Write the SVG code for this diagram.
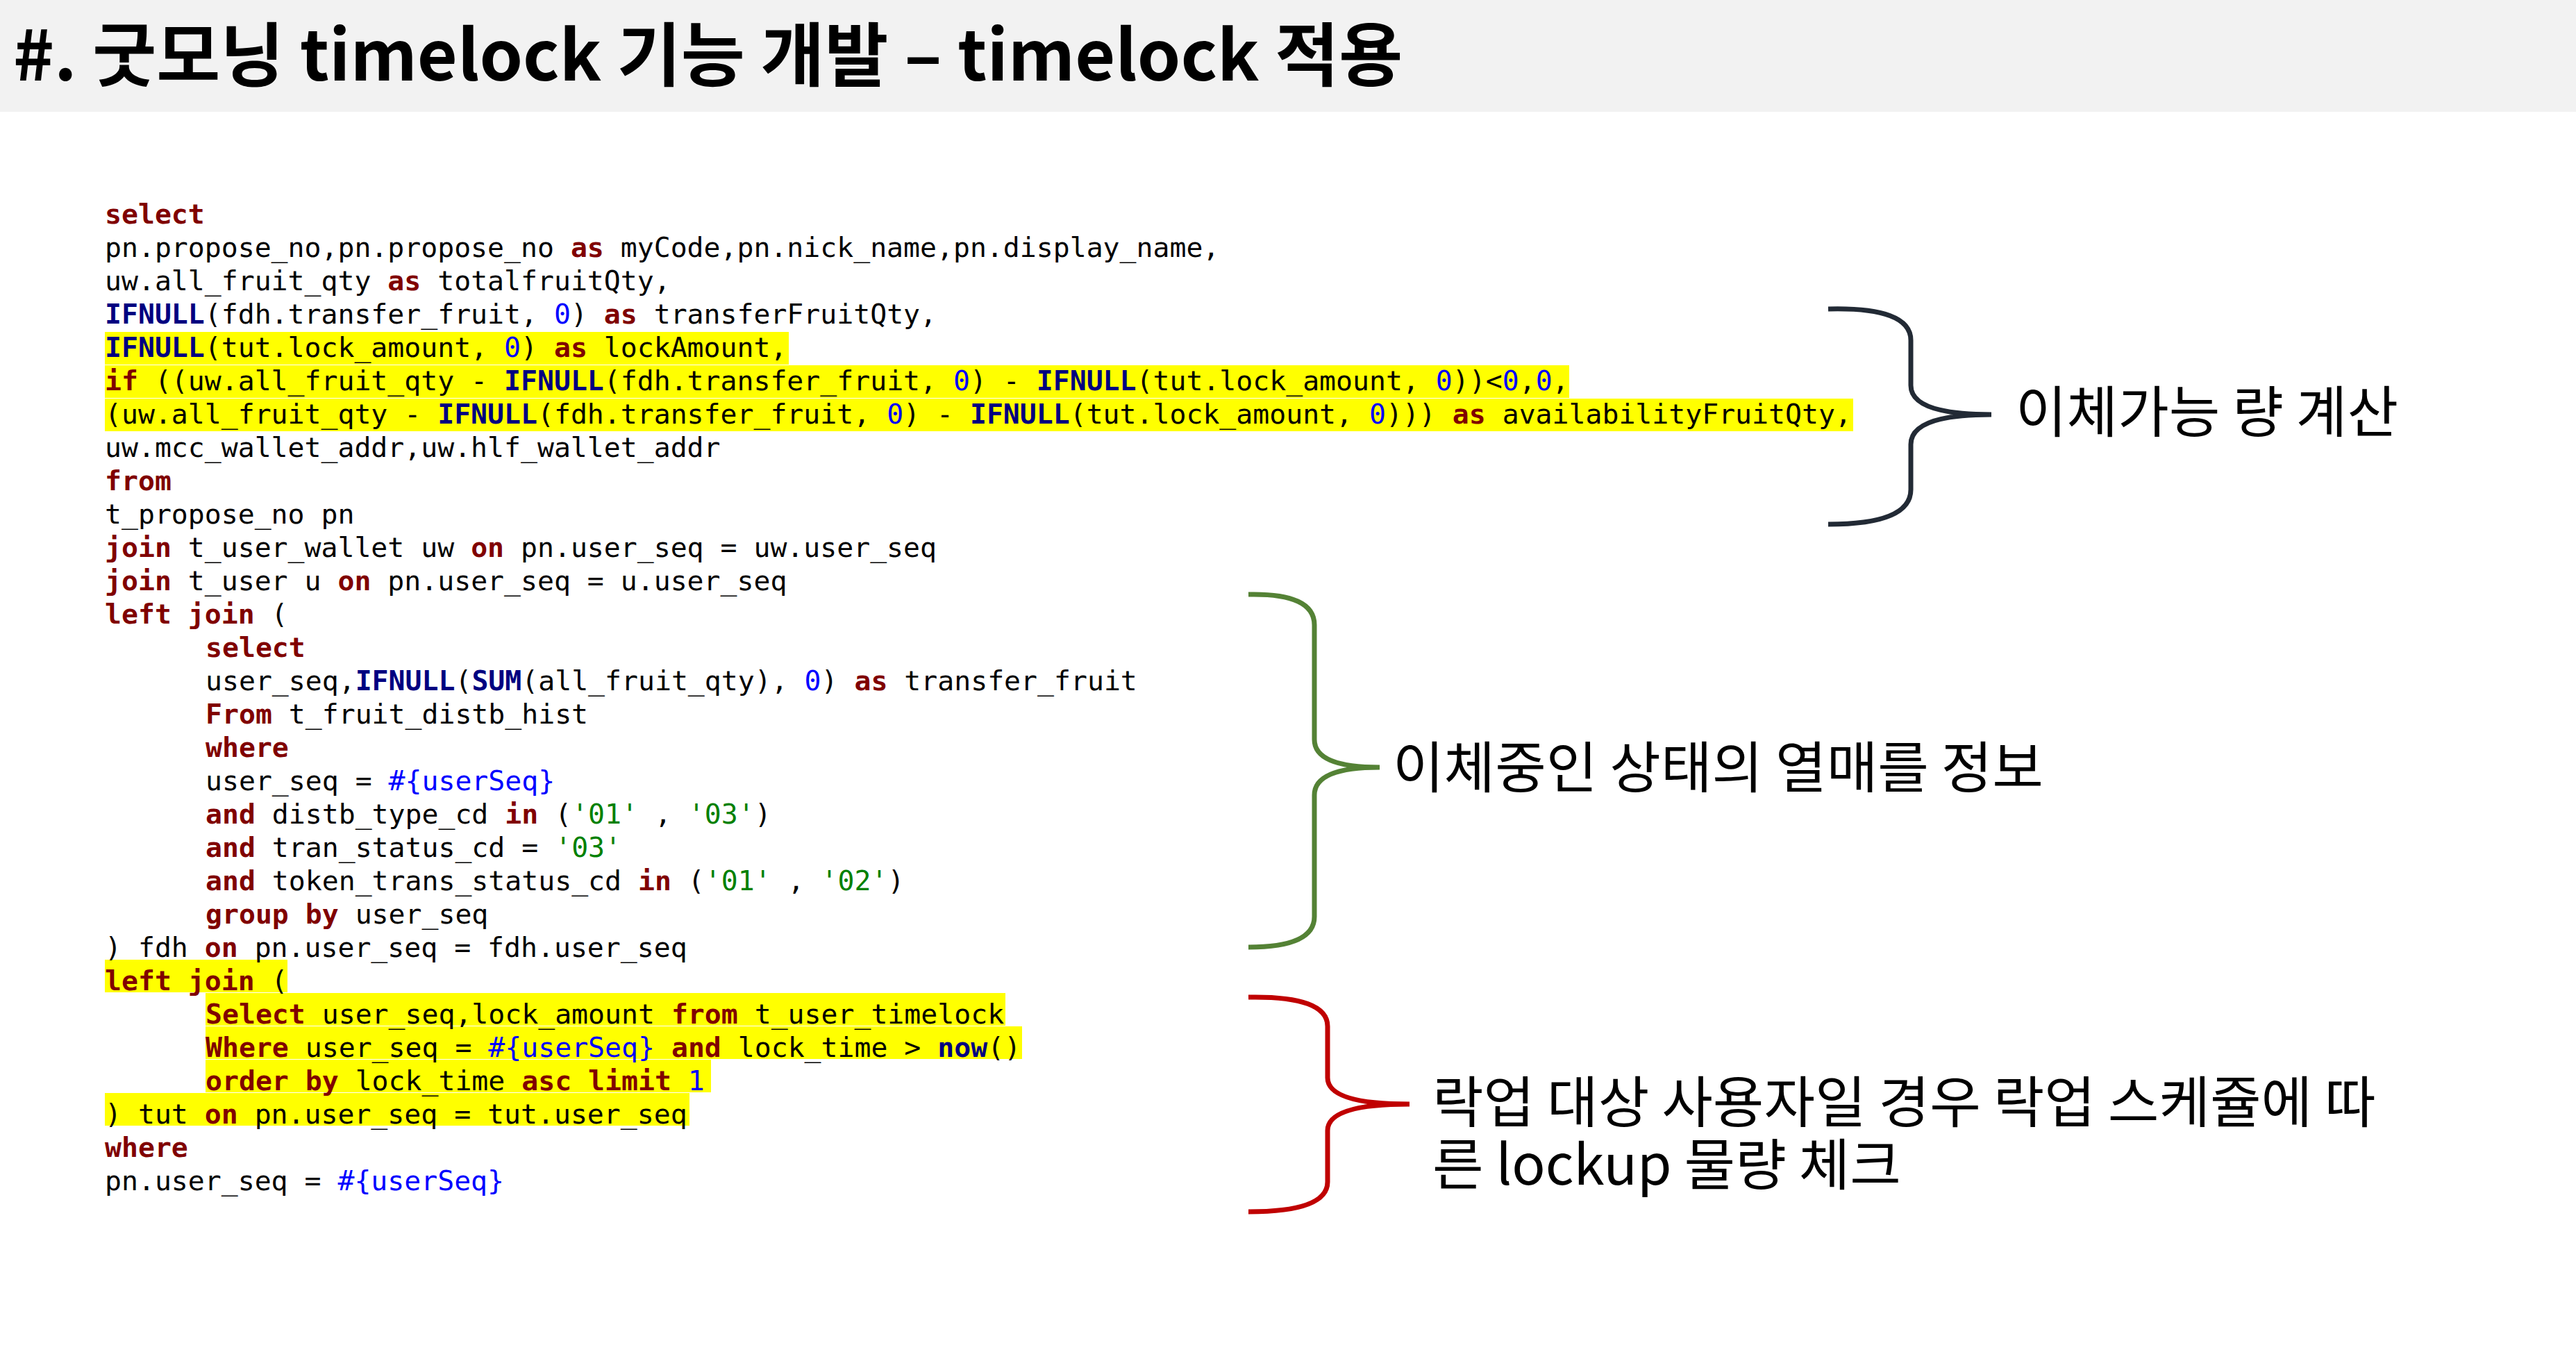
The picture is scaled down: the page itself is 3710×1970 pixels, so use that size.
<svg xmlns="http://www.w3.org/2000/svg" width="3710" height="1970" viewBox="0 0 3710 1970">
<style>
.c{font-family:"DejaVu Sans Mono","Liberation Mono",monospace;font-size:39.8px;fill:#000}
.k{fill:#800000;font-weight:bold}
.f{fill:#000080;font-weight:bold}
.n{fill:#0000ff}
.s{fill:#008000}
.hl{fill:#ffff00}
.lbl{font-family:"Noto Sans CJK KR","Noto Sans",sans-serif;font-size:80px;fill:#000}
.br{fill:none;stroke-width:7}
</style>
<rect x="0" y="0" width="3710" height="1970" fill="#fff"/>
<rect x="0" y="0" width="3710" height="161" fill="#f2f2f2"/>
<text x="19" y="116" font-family="Noto Sans CJK KR,Noto Sans,sans-serif" font-weight="bold" font-size="100">#. 굿모닝 timelock 기능 개발 – timelock 적용</text>
<g id="highlights">
<rect class="hl" x="151" y="478" width="985" height="47"/>
<rect class="hl" x="151" y="526" width="2109" height="47"/>
<rect class="hl" x="151" y="574" width="2518" height="47"/>
<rect class="hl" x="151" y="1382" width="263" height="47"/>
<rect class="hl" x="296" y="1430" width="1152" height="47"/>
<rect class="hl" x="296" y="1478" width="1176" height="47"/>
<rect class="hl" x="296" y="1526" width="728" height="47"/>
<rect class="hl" x="151" y="1574" width="842" height="47"/>
</g>
<g id="code" class="c" xml:space="preserve">
<text x="151" y="322"><tspan class="k">select</tspan></text>
<text x="151" y="370">pn.propose_no,pn.propose_no <tspan class="k">as</tspan> myCode,pn.nick_name,pn.display_name,</text>
<text x="151" y="418">uw.all_fruit_qty <tspan class="k">as</tspan> totalfruitQty,</text>
<text x="151" y="466"><tspan class="f">IFNULL</tspan>(fdh.transfer_fruit, <tspan class="n">0</tspan>) <tspan class="k">as</tspan> transferFruitQty,</text>
<text x="151" y="514"><tspan class="f">IFNULL</tspan>(tut.lock_amount, <tspan class="n">0</tspan>) <tspan class="k">as</tspan> lockAmount,</text>
<text x="151" y="562"><tspan class="k">if</tspan> ((uw.all_fruit_qty - <tspan class="f">IFNULL</tspan>(fdh.transfer_fruit, <tspan class="n">0</tspan>) - <tspan class="f">IFNULL</tspan>(tut.lock_amount, <tspan class="n">0</tspan>))&lt;<tspan class="n">0</tspan>,<tspan class="n">0</tspan>,</text>
<text x="151" y="610">(uw.all_fruit_qty - <tspan class="f">IFNULL</tspan>(fdh.transfer_fruit, <tspan class="n">0</tspan>) - <tspan class="f">IFNULL</tspan>(tut.lock_amount, <tspan class="n">0</tspan>))) <tspan class="k">as</tspan> availabilityFruitQty,</text>
<text x="151" y="658">uw.mcc_wallet_addr,uw.hlf_wallet_addr</text>
<text x="151" y="706"><tspan class="k">from</tspan></text>
<text x="151" y="754">t_propose_no pn</text>
<text x="151" y="802"><tspan class="k">join</tspan> t_user_wallet uw <tspan class="k">on</tspan> pn.user_seq = uw.user_seq</text>
<text x="151" y="850"><tspan class="k">join</tspan> t_user u <tspan class="k">on</tspan> pn.user_seq = u.user_seq</text>
<text x="151" y="898"><tspan class="k">left join</tspan> (</text>
<text x="296" y="946"><tspan class="k">select</tspan></text>
<text x="296" y="994">user_seq,<tspan class="f">IFNULL</tspan>(<tspan class="f">SUM</tspan>(all_fruit_qty), <tspan class="n">0</tspan>) <tspan class="k">as</tspan> transfer_fruit</text>
<text x="296" y="1042"><tspan class="k">From</tspan> t_fruit_distb_hist</text>
<text x="296" y="1090"><tspan class="k">where</tspan></text>
<text x="296" y="1138">user_seq = <tspan class="n">#{userSeq}</tspan></text>
<text x="296" y="1186"><tspan class="k">and</tspan> distb_type_cd <tspan class="k">in</tspan> (<tspan class="s">'01'</tspan> , <tspan class="s">'03'</tspan>)</text>
<text x="296" y="1234"><tspan class="k">and</tspan> tran_status_cd = <tspan class="s">'03'</tspan></text>
<text x="296" y="1282"><tspan class="k">and</tspan> token_trans_status_cd <tspan class="k">in</tspan> (<tspan class="s">'01'</tspan> , <tspan class="s">'02'</tspan>)</text>
<text x="296" y="1330"><tspan class="k">group by</tspan> user_seq</text>
<text x="151" y="1378">) fdh <tspan class="k">on</tspan> pn.user_seq = fdh.user_seq</text>
<text x="151" y="1426"><tspan class="k">left join</tspan> (</text>
<text x="296" y="1474"><tspan class="k">Select</tspan> user_seq,lock_amount <tspan class="k">from</tspan> t_user_timelock</text>
<text x="296" y="1522"><tspan class="k">Where</tspan> user_seq = <tspan class="n">#{userSeq}</tspan> <tspan class="k">and</tspan> lock_time &gt; <tspan class="f">now</tspan>()</text>
<text x="296" y="1570"><tspan class="k">order by</tspan> lock_time <tspan class="k">asc limit</tspan> <tspan class="n">1</tspan></text>
<text x="151" y="1618">) tut <tspan class="k">on</tspan> pn.user_seq = tut.user_seq</text>
<text x="151" y="1666"><tspan class="k">where</tspan></text>
<text x="151" y="1714">pn.user_seq = <tspan class="n">#{userSeq}</tspan></text>
</g>
<g id="connectors">
<path class="br" stroke="#222a35" d="M2633 445 Q2752 442 2752 490 L2752 555 Q2752 597 2868 597 Q2752 597 2752 640 L2752 705 Q2752 755 2633 755"/>
<path class="br" stroke="#548235" d="M1798 856 Q1893 854 1893 900 L1893 1065 Q1893 1105 1987 1105 Q1893 1105 1893 1145 L1893 1320 Q1893 1364 1798 1364"/>
<path class="br" stroke="#c00000" d="M1798 1436 Q1912 1434 1912 1478 L1912 1552 Q1912 1590 2030 1590 Q1912 1590 1912 1628 L1912 1702 Q1912 1745 1798 1745"/>
</g>
<g id="label1"><text class="lbl" x="2903" y="622">이체가능 량 계산</text></g>
<g id="label2"><text class="lbl" x="2006" y="1134">이체중인 상태의 열매를 정보</text></g>
<g id="label3"><text class="lbl" x="2063" y="1616">락업 대상 사용자일 경우 락업 스케쥴에 따</text><text class="lbl" x="2063" y="1706">른 lockup 물량 체크</text></g>
</svg>
